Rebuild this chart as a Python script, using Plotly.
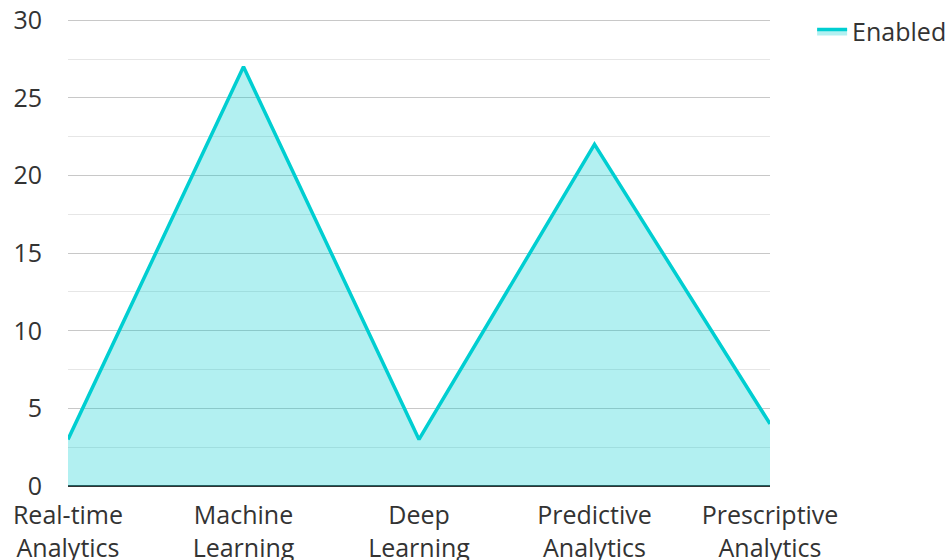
import plotly.graph_objects as go

categories = ["Real-time<br>Analytics", "Machine<br>Learning", "Deep<br>Learning",
              "Predictive<br>Analytics", "Prescriptive<br>Analytics"]
enabled = [3, 27, 3, 22, 4]
y_ticks = [0, 5, 10, 15, 20, 25, 30]

fig = go.Figure()
fig.add_trace(go.Scatter(
    x=categories, y=enabled, name="Enabled", mode="lines",
    line=dict(color="#00CED1", width=3.5),
    fill="tozeroy", fillcolor="rgba(0,206,209,0.3)",
))

fig.update_layout(
    width=951, height=560,
    margin=dict(l=68, r=181, t=19, b=74, autoexpand=False),
    paper_bgcolor="white", plot_bgcolor="white",
    font=dict(family="Open Sans", size=25, color="#333333"),
    showlegend=True,
    legend=dict(x=1.06, y=1.022, xanchor="left", yanchor="top",
                font=dict(size=25, color="#333333"),
                bgcolor="rgba(0,0,0,0)"),
    xaxis=dict(range=[0, 4], showgrid=False, zeroline=False, ticks="",
               showline=False, tickfont=dict(size=25), ticklabelstandoff=12,
               automargin=False),
    yaxis=dict(range=[0, 30.08], tickvals=y_ticks, showgrid=True,
               gridcolor="#c8c8c8", gridwidth=1,
               minor=dict(dtick=2.5, showgrid=True, gridcolor="#e6e6e6", gridwidth=1),
               zeroline=True, zerolinecolor="#333333", zerolinewidth=2,
               ticks="", ticklabelstandoff=25, tickfont=dict(size=25),
               automargin=False),
)

fig.write_html("out.html")
